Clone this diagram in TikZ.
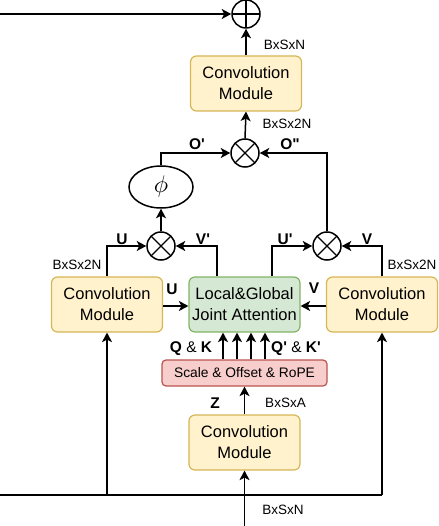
\documentclass[tikz,border=0pt]{standalone}
\usepackage{fontspec}
\setmainfont{Liberation Sans}
\usetikzlibrary{arrows.meta,shapes.geometric,calc}
\definecolor{convfill}{HTML}{FFF2CC}
\definecolor{convdraw}{HTML}{D6B656}
\definecolor{attfill}{HTML}{D5E8D4}
\definecolor{attdraw}{HTML}{82B366}
\definecolor{ropefill}{HTML}{F8CECC}
\definecolor{ropedraw}{HTML}{B85450}
\tikzset{
  box/.style={rounded corners=6pt, line width=1.2pt, align=center, inner sep=0pt,
    font=\fontsize{16.5}{21}\selectfont},
  conv/.style={box, fill=convfill, draw=convdraw, minimum width=111pt, minimum height=55pt},
  att/.style={box, fill=attfill, draw=attdraw, minimum width=111pt, minimum height=55pt},
  rope/.style={box, rounded corners=4pt, fill=ropefill, draw=ropedraw, minimum width=165pt, minimum height=26pt,
    font=\fontsize{13.8}{16}\selectfont},
  opcirc/.style={circle, draw, line width=1.5pt, minimum size=28pt, inner sep=0pt},
  timesop/.style={opcirc, path picture={
      \draw[line width=1.3pt] (path picture bounding box.south west) -- (path picture bounding box.north east)
        (path picture bounding box.north west) -- (path picture bounding box.south east);}},
  plusop/.style={opcirc, path picture={
      \draw[line width=1.3pt] (path picture bounding box.south) -- (path picture bounding box.north)
        (path picture bounding box.west) -- (path picture bounding box.east);}},
  phinode/.style={ellipse, draw, line width=1.5pt, minimum width=64pt, minimum height=42pt, inner sep=0pt},
  arr/.style={line width=1.5pt, -{Stealth[length=9.5pt,width=10pt,inset=2.5pt]}},
  ln/.style={line width=1.5pt},
  dimlab/.style={font=\fontsize{13.5}{15}\selectfont, inner sep=0pt},
  varlab/.style={font=\fontsize{15.5}{17}\selectfont\bfseries, inner sep=0pt},
}
\begin{document}
\begin{tikzpicture}[x=1pt,y=-1pt]
\useasboundingbox (0,0) rectangle (438,526);
% nodes
\node[plusop] (plus) at (246,14) {};
\node[conv] (c1) at (246,83.5) {Convolution\\Module};
\node[timesop] (m1) at (245,153) {};
\node[phinode] (phi) at (161,187) {};
\node (phitext) at (phi.center) {\scalebox{2.4}{$\phi$}};
\node[timesop] (m2) at (161,246) {};
\node[timesop] (m3) at (327,246) {};
\node[conv] (cl) at (107,304.5) {Convolution\\Module};
\node[att] (att) at (244.5,304.5) {Local\&Global\\Joint Attention};
\node[conv] (cr) at (382,304.5) {Convolution\\Module};
\node[rope] (rope) at (244.5,373) {Scale \& Offset \& RoPE};
\node[conv] (cb) at (244.5,442.5) {Convolution\\Module};
\coordinate (in) at (244.5,530);
\coordinate (split) at (244.5,495);
\coordinate (lend) at (-4,495);
\coordinate (rend) at (382,495);
\coordinate (tl) at (-4,14);
% connectors
\draw[arr] (in) -- (cb.south);
\draw[ln] (lend) -- (rend);
\draw[ln] (lend) -- (tl);
\draw[arr] (tl) -- (plus.west);
\draw[arr] (rend) -- (cr.south);
\draw[arr] (cl.south |- lend) -- (cl.south);
\draw[arr] (cb.north) -- (rope.south);
\foreach \dx in {-21.5,-7.5,6.5,20.5}
  \draw[arr] ([xshift=\dx pt]rope.north) -- ([xshift=\dx pt]att.south);
\draw[arr] ([yshift=-1.5pt]cl.east) -- ([yshift=-1.5pt]att.west);
\draw[arr] ([yshift=-1.5pt]cr.west) -- ([yshift=-1.5pt]att.east);
\draw[arr] (cl.north) |- (m2.west);
\draw[arr] ([xshift=-27.5pt]att.north) |- (m2.east);
\draw[arr] ([xshift=27.5pt]att.north) |- (m3.west);
\draw[arr] (cr.north) |- (m3.east);
\draw[arr] (m2.north) -- (phi.south);
\draw[arr] (phi.north) |- (m1.west);
\draw[arr] (m3.north) |- (m1.east);
\draw[arr] (m1.north) -- (c1.south);
\draw[arr] (c1.north) -- (plus.south);
% labels
\node[dimlab] (l1) at (284.5,45) {BxSxN};
\node[dimlab] (l2) at (287,124) {BxSx2N};
\node[varlab] (l3) at (197,144) {O\textquotesingle};
\node[varlab] (l4) at (290,144) {O\textquotedbl};
\node[varlab] (l5) at (122,239) {U};
\node[varlab] (l6) at (203,239) {V\textquotesingle};
\node[varlab] (l7) at (285,239) {U\textquotesingle};
\node[varlab] (l8) at (367,239) {V};
\node[dimlab] (l9) at (77,265) {BxSx2N};
\node[dimlab] (l10) at (412,265) {BxSx2N};
\node[varlab] (l11) at (172,289) {U};
\node[varlab] (l12) at (314,288) {V};
\node[varlab] (l13) at (191,349) {Q \mdseries\& \bfseries K};
\node[varlab] (l14) at (296,349) {Q\textquotesingle{} \mdseries\& \bfseries K\textquotesingle};
\node[varlab] (l15) at (215,403) {Z};
\node[dimlab] (l16) at (285.5,403) {BxSxA};
\node[dimlab] (l17) at (283,510) {BxSxN};
\end{tikzpicture}
\end{document}
